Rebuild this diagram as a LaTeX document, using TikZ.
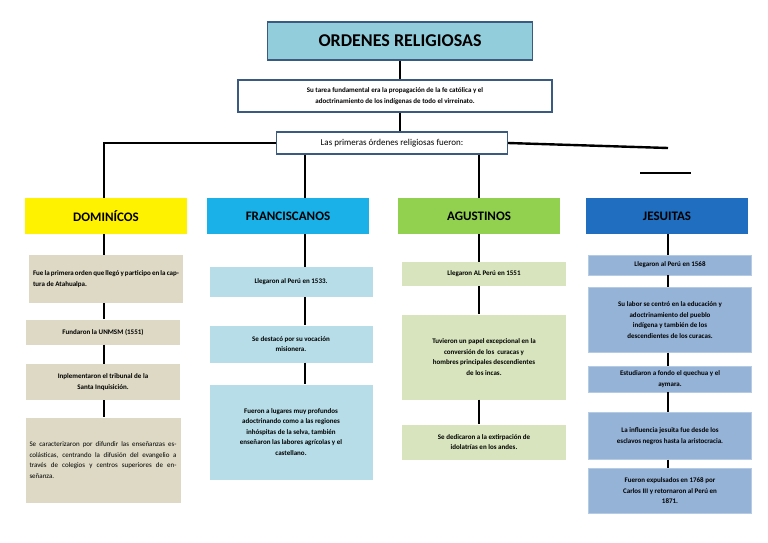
\documentclass[tikz,border=0pt]{standalone}
\usepackage{fontspec}
\setmainfont{Carlito}
\begin{document}
\begin{tikzpicture}[x=1pt,y=-1pt,
 cb/.style={inner sep=2pt,align=center,font=\fontsize{7}{10.5}\selectfont\bfseries},
 dom/.style={cb,fill=domc},
 fra/.style={cb,fill=frac},
 agu/.style={cb,fill=aguc},
 jes/.style={cb,fill=jesc,draw=jesc!70!white},
 hdr/.style={minimum width=162pt,minimum height=36pt,font=\fontsize{13}{15}\selectfont\bfseries},
 ln/.style={line width=2.4pt,black},
 tb/.style={draw=bord,line width=1.2pt,fill=white}]
\definecolor{domc}{HTML}{DDD9C4}\definecolor{frac}{HTML}{B7DDE8}
\definecolor{aguc}{HTML}{D7E4BD}\definecolor{jesc}{HTML}{95B3D7}
\definecolor{bord}{HTML}{3A5A80}\definecolor{titc}{HTML}{92CDDC}
\useasboundingbox (0,0) rectangle (768,543);
% top
\node[tb,fill=titc,minimum width=265pt,minimum height=38pt,font=\fontsize{18}{20}\selectfont\bfseries] (tit) at (400,41) {ORDENES RELIGIOSAS};
\node[tb,minimum width=314pt,minimum height=32pt,align=center,font=\fontsize{7}{11}\selectfont\bfseries] (sub) at (395,96) {Su tarea fundamental era la propagación de la fe católica y el\\adoctrinamiento de los indígenas de todo el virreinato.};
\node[tb,minimum width=231pt,minimum height=22pt,font=\fontsize{9}{11}\selectfont] (las) at (392,143) {Las primeras órdenes religiosas fueron:};
\coordinate (lc) at (400,0);
\coordinate (dl) at (104,0); \coordinate (fl) at (305,0); \coordinate (al) at (479,0); \coordinate (jl) at (668,0);
\coordinate (re) at (668,148); \coordinate (s1) at (640,173); \coordinate (s2) at (691,173);
% headers
\node[hdr,fill=yellow] (h1) at (106,216) {DOMINÍCOS};
\node[hdr,fill={rgb,255:red,26;green,176;blue,232}] (h2) at (288,216) {FRANCISCANOS};
\node[hdr,fill={rgb,255:red,146;green,208;blue,80}] (h3) at (479,216) {AGUSTINOS};
\node[hdr,fill={rgb,255:red,31;green,110;blue,192}] (h4) at (667,216) {JESUITAS};
% dominicos
\node[dom,minimum width=154pt,minimum height=48pt,text width=146pt,align=justify] (d1) at (106,279) {Fue la primera orden que llegó y participo en la captura de Atahualpa.};
\node[dom,minimum width=154pt,minimum height=25pt] (d2) at (103,332) {Fundaron la UNMSM (1551)};
\node[dom,minimum width=154pt,minimum height=36pt] (d3) at (103,382) {Inplementaron el tribunal de la\\Santa Inquisición.};
\node[cb,fill=domc,font=\fontsize{7}{10.8}\selectfont,minimum width=155pt,minimum height=85pt,text width=147pt,align=justify] (d4) at (103,460) {Se caracterizaron por difundir las enseñanzas escolásticas, centrando la difusión del evangelio a través de colegios y centros superiores de enseñanza.};
% franciscanos
\node[fra,minimum width=163pt,minimum height=30pt] (f1) at (291,282) {Llegaron al Perú en 1533.};
\node[fra,minimum width=163pt,minimum height=37pt] (f2) at (291,344) {Se destacó por su vocación\\misionera.};
\node[fra,minimum width=163pt,minimum height=95pt] (f3) at (291,432) {Fueron a lugares muy profundos\\adoctrinando como a las regiones\\inhóspitas de la selva, también\\enseñaron las labores agrícolas y el\\castellano.};
% agustinos
\node[agu,minimum width=164pt,minimum height=24pt] (a1) at (484,274) {Llegaron AL Perú en 1551};
\node[agu,minimum width=164pt,minimum height=85pt] (a2) at (484,357) {Tuvieron un papel excepcional en la\\conversión de los \ curacas y\\hombres principales descendientes\\de los incas.};
\node[agu,minimum width=164pt,minimum height=35pt] (a3) at (484,442) {Se dedicaron a la extirpación de\\idolatrías en los andes.};
% jesuitas
\node[jes,minimum width=163pt,minimum height=20pt] (j1) at (670,265) {Llegaron al Perú en 1568};
\node[jes,minimum width=163pt,minimum height=65pt] (j2) at (670,320) {Su labor se centró en la educación y\\adoctrinamiento del pueblo\\indígena y también de los\\descendientes de los curacas.};
\node[jes,minimum width=163pt,minimum height=26pt] (j3) at (670,379) {Estudiaron a fondo el quechua y el\\aymara.};
\node[jes,minimum width=163pt,minimum height=47pt] (j4) at (670,436) {La influencia jesuita fue desde los\\esclavos negros hasta la aristocracia.};
\node[jes,minimum width=163pt,minimum height=45pt] (j5) at (670,491) {Fueron expulsados en 1768 por\\Carlos III y retornaron al Perú en\\1871.};
% connectors
\draw[ln] (tit.south -| lc) -- (sub.north -| lc);
\draw[ln] (sub.south -| lc) -- (las.north -| lc);
\draw[ln] (las.west) -| (h1.north -| dl);
\draw[ln] (las.east) -- (re);
\draw[ln] (las.south -| fl) -- (h2.north -| fl);
\draw[ln] (las.south -| al) -- (h3.north -| al);
\draw[ln] (s1) -- (s2);
\foreach \a/\b/\c in {h1/d1/dl,d1/d2/dl,d2/d3/dl,d3/d4/dl,h2/f1/fl,f1/f2/fl,f2/f3/fl,h3/a1/al,a1/a2/al,a2/a3/al,h4/j1/jl,j1/j2/jl,j2/j3/jl,j3/j4/jl,j4/j5/jl}
 \draw[ln] (\a.south -| \c) -- (\b.north -| \c);
\end{tikzpicture}
\end{document}
